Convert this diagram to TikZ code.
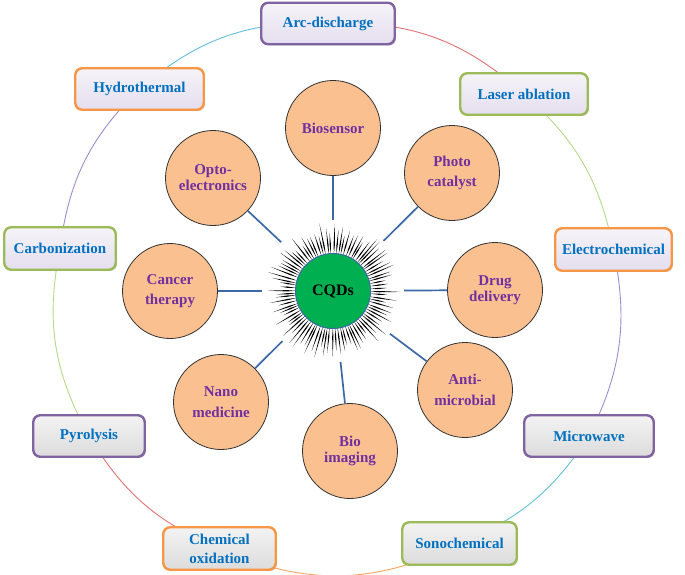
\documentclass[tikz,border=0pt]{standalone}
\usepackage{fontspec}
\setmainfont{Liberation Serif}[BoldFont={Liberation Serif Bold}]
\usetikzlibrary{shadows,calc}
\definecolor{bpurple}{HTML}{8064A2}
\definecolor{bgreen}{HTML}{9BBB59}
\definecolor{borange}{HTML}{F79646}
\definecolor{lav}{HTML}{E4DEEE}
\definecolor{gry}{HTML}{DCDCDC}
\definecolor{txtblue}{HTML}{0070C0}
\definecolor{txtpurple}{HTML}{7030A0}
\definecolor{petalfill}{HTML}{FAC090}
\definecolor{connblue}{HTML}{3C69A6}
\definecolor{cqdgreen}{HTML}{00B050}
\definecolor{arcred}{HTML}{E07272}
\definecolor{arcgreen}{HTML}{B8D88A}
\definecolor{arcpurple}{HTML}{A08CCC}
\definecolor{arccyan}{HTML}{62C0DA}
\definecolor{arcorange}{HTML}{F8A45E}
\tikzset{
  method/.style={draw=#1, line width=2.4pt, rounded corners=7pt, minimum height=41.5pt,
    inner sep=2pt, align=center, font=\fontsize{15}{19}\selectfont\bfseries, text=txtblue,
    drop shadow={shadow xshift=1.2pt, shadow yshift=-1.2pt, fill=gray!55, opacity=0.8}},
  lavfill/.style={top color=lav!35!white, bottom color=lav},
  gryfill/.style={top color=gry!35!white, bottom color=gry},
  petal/.style={circle, draw=black!80, line width=0.8pt, fill=petalfill, minimum size=95pt,
    inner sep=0pt, align=center, text=txtpurple, font=\fontsize{15}{18}\selectfont\bfseries},
  tight/.style={font=\fontsize{15}{16}\selectfont\bfseries},
  loose/.style={font=\fontsize{15}{20.5}\selectfont\bfseries},
  conn/.style={draw=connblue, line width=1.7pt},
  ring/.style={line width=0.9pt},
}
\begin{document}
\begin{tikzpicture}[x=1pt,y=-1pt]
\useasboundingbox[fill=white] (0,0) rectangle (685,574);

\coordinate (c0) at (333,291);

\node[minimum width=133.5pt, minimum height=41.5pt] (arc) at (328,23.5) {};
\node[minimum width=127.5pt, minimum height=41.5pt] (las) at (524,94) {};
\node[minimum width=116.5pt, minimum height=42.5pt] (ele) at (613.5,249.5) {};
\node[minimum width=129.5pt, minimum height=41.5pt] (mic) at (589,436) {};
\node[minimum width=114.5pt, minimum height=42.5pt] (son) at (459.5,543.5) {};
\node[minimum width=112.5pt, minimum height=42.5pt] (che) at (219.5,548.5) {};
\node[minimum width=111.5pt, minimum height=41.5pt] (pyr) at (89,436) {};
\node[minimum width=111.5pt, minimum height=42.5pt] (car) at (60,248.5) {};
\node[minimum width=128.5pt, minimum height=41.5pt] (hyd) at (139.5,89) {};

\draw[ring, arcred]    (arc.center) to[bend left=22] (las.center);
\draw[ring, arcgreen]  (las.center) to[bend left=18.5] (ele.center);
\draw[ring, arcpurple] (ele.center) to[bend left=19] (mic.center);
\draw[ring, arccyan]   (mic.center) to[bend left=17] (son.center);
\draw[ring, arcorange] (son.center) to[bend left=25] (che.center);
\draw[ring, arcred]    (che.center) to[bend left=18] (pyr.center);
\draw[ring, arcgreen]  (pyr.center) to[bend left=20] (car.center);
\draw[ring, arcpurple] (car.center) to[bend left=19] (hyd.center);
\draw[ring, arccyan]   (hyd.center) to[bend left=21.5] (arc.center);

\node[method=bpurple, lavfill, minimum width=133.5pt] at (arc) {Arc-discharge};
\node[method=bgreen,  lavfill, minimum width=127.5pt] at (las) {Laser ablation};
\node[method=borange, lavfill, minimum width=116.5pt, minimum height=42.5pt] at (ele) {Electrochemical};
\node[method=bpurple, gryfill, minimum width=129.5pt] at (mic) {Microwave};
\node[method=bgreen,  gryfill, minimum width=114.5pt, minimum height=42.5pt] at (son) {Sonochemical};
\node[method=borange, gryfill, minimum width=112.5pt, minimum height=42.5pt, font=\fontsize{15}{19}\selectfont\bfseries] at (che) {Chemical\\oxidation};
\node[method=bpurple, gryfill, minimum width=111.5pt] at (pyr) {Pyrolysis};
\node[method=bgreen,  lavfill, minimum width=111.5pt, minimum height=42.5pt] at (car) {Carbonization};
\node[method=borange, lavfill, minimum width=128.5pt] at (hyd) {Hydrothermal};

% ---- spikes ----
\pgfmathsetseed{5}
\foreach \i in {0,...,91}{
  \pgfmathsetmacro{\spang}{\i*3.9130435 + rnd*1.6}
  \pgfmathsetmacro{\splen}{53+rnd*16}
  \pgfmathsetmacro{\spa}{\spang-0.8}
  \pgfmathsetmacro{\spb}{\spang+0.8}
  \fill[black] ($(c0)+(\spang:37)$) -- ($(c0)+(\spa:46)$) -- ($(c0)+(\spang:\splen)$) -- ($(c0)+(\spb:46)$) -- cycle;
}
\node[circle, minimum size=142pt, inner sep=0pt] (burst) at (c0) {};
\node[circle, fill=cqdgreen, draw=connblue, line width=1pt, minimum size=75pt, inner sep=0pt,
      font=\fontsize{16}{19}\selectfont\bfseries] (cqd) at (c0) {CQDs};

% ---- petals ----
\node[petal] (bs) at (333,128) {Biosensor};
\node[petal, loose] (pc) at (452,173) {Photo\\catalyst};
\node[petal, tight] (dd) at (495,290) {Drug\\delivery};
\node[petal, loose] (am) at (465,390) {Anti-\\microbial};
\node[petal, tight] (bi) at (350,451) {Bio\\imaging};
\node[petal, loose] (nm) at (221,402) {Nano\\medicine};
\node[petal, loose] (ct) at (170,291) {Cancer\\therapy};
\node[petal, tight] (oe) at (213,178) {Opto-\\electronics};

% ---- connectors ----
\foreach \p in {bs,pc,dd,am,bi,nm,ct,oe}{
  \draw[conn] (burst) -- (\p);
}
\end{tikzpicture}
\end{document}
